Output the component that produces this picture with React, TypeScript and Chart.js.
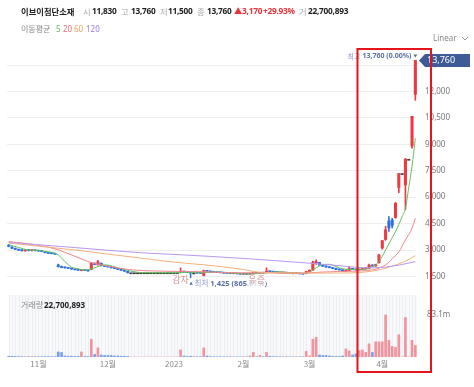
import React, { useEffect, useRef } from 'react';
import { Chart, registerables } from 'chart.js';
Chart.register(...registerables);

const FONT = "'Noto Sans CJK KR', 'Noto Sans', sans-serif";
const NUM_FONT = "'Noto Sans', 'Noto Sans CJK KR', sans-serif";
const STOCK_NAME = '이브이첨단소재';

const opens = [
  3250, 3170, 3100, 3040, 2990, 2960, 2980, 2970, 2990, 2960,
  2940, 2880, 2850, 2810, 2800, 2150, 2060, 2010, 1990, 1960,
  1920, 1880, 1840, 1870, 1840, 1900, 2250, 2160, 2250, 2110,
  2070, 2040, 1990, 1950, 1900, 1850, 1790, 1710, 1710, 1710,
  1710, 1710, 1710, 1710, 1710, 1710, 1710, 1710, 1710, 1710,
  1710, 1710, 1720, 1790, 1750, 1720, 1700, 1700, 1690, 1560,
  1830, 1790, 1760, 1740, 1720, 1710, 1690, 1680, 1660, 1670,
  1650, 1630, 1640, 1620, 1650, 1700, 1680, 1710, 1720, 1800,
  1770, 1750, 1730, 1710, 1720, 1690, 1680, 1670, 1680, 1650,
  1660, 1790, 1860, 2260, 2300, 2150, 2080, 2040, 2000, 1950,
  1900, 1870, 1800, 1850, 1960, 1900, 1870, 1890, 1930, 1950,
  2150, 2090, 2280, 3120, 3600, 4650, 4700, 4850, 6550, 7340,
  6700, 8150, 8900, 11830,
];
const highs = [
  3320, 3200, 3120, 3060, 3020, 3000, 3010, 3000, 3010, 2990,
  2960, 2900, 2870, 2840, 2820, 2200, 2090, 2030, 2000, 1980,
  1930, 1890, 1900, 1880, 1850, 2300, 2280, 2420, 2270, 2130,
  2090, 2050, 2000, 1960, 1910, 1860, 1800, 1710, 1710, 1710,
  1710, 1710, 1710, 1710, 1710, 1710, 1710, 1710, 1710, 1710,
  1710, 1710, 1990, 1800, 1760, 1730, 1720, 1710, 1700, 1860,
  1840, 1800, 1770, 1750, 1730, 1720, 1700, 1690, 1680, 1680,
  1660, 1650, 1650, 1660, 1720, 1710, 1720, 1720, 1990, 1810,
  1780, 1760, 1740, 1730, 1730, 1700, 1690, 1690, 1690, 1660,
  1800, 1880, 2380, 2440, 2310, 2170, 2100, 2050, 2010, 1970,
  1920, 1880, 1880, 2060, 1970, 1920, 1920, 1960, 1990, 2200,
  2170, 2200, 2750, 3535, 4350, 4900, 4800, 5700, 7340, 7340,
  8200, 8150, 10590, 13760,
];
const lows = [
  3180, 3080, 3020, 2980, 2940, 2930, 2950, 2940, 2950, 2930,
  2900, 2830, 2800, 2780, 2750, 2030, 1990, 1970, 1950, 1910,
  1870, 1840, 1820, 1830, 1800, 1880, 2160, 2140, 2090, 2060,
  2030, 1980, 1940, 1890, 1840, 1790, 1700, 1710, 1710, 1710,
  1710, 1710, 1710, 1710, 1710, 1710, 1710, 1710, 1710, 1710,
  1710, 1710, 1700, 1740, 1710, 1425, 1680, 1680, 1670, 1540,
  1780, 1750, 1730, 1710, 1700, 1680, 1670, 1650, 1640, 1640,
  1620, 1610, 1610, 1610, 1640, 1670, 1670, 1680, 1700, 1760,
  1740, 1720, 1700, 1690, 1680, 1670, 1650, 1650, 1640, 1620,
  1650, 1780, 1840, 2180, 2120, 2060, 2020, 1990, 1940, 1890,
  1860, 1820, 1790, 1840, 1890, 1860, 1860, 1880, 1920, 1930,
  2070, 2080, 2250, 3050, 3550, 4050, 4250, 4800, 6250, 7340,
  5300, 8150, 8780, 11500,
];
const closes = [
  3210, 3100, 3040, 2990, 2960, 2980, 2970, 2990, 2960, 2940,
  2910, 2850, 2810, 2800, 2760, 2060, 2010, 1990, 1960, 1920,
  1880, 1850, 1870, 1840, 1810, 2250, 2180, 2330, 2110, 2070,
  2040, 1990, 1950, 1900, 1850, 1800, 1710, 1710, 1710, 1710,
  1710, 1710, 1710, 1710, 1710, 1710, 1710, 1710, 1710, 1710,
  1710, 1710, 1790, 1750, 1720, 1700, 1700, 1690, 1680, 1830,
  1790, 1760, 1740, 1720, 1710, 1690, 1680, 1660, 1670, 1650,
  1630, 1640, 1620, 1650, 1700, 1680, 1710, 1690, 1800, 1770,
  1750, 1730, 1710, 1720, 1690, 1680, 1670, 1680, 1650, 1640,
  1780, 1850, 2300, 2340, 2150, 2080, 2040, 2000, 1950, 1900,
  1870, 1830, 1850, 1960, 1900, 1870, 1900, 1940, 1960, 2150,
  2090, 2180, 2720, 3535, 4150, 4250, 4400, 5650, 7340, 7340,
  8150, 8150, 10590, 13760,
];
const volumes = [
  1500000, 1200000, 1000000, 900000, 800000, 800000, 700000, 800000, 600000, 600000,
  700000, 900000, 800000, 600000, 700000, 10000000, 9000000, 2000000, 1500000, 1500000,
  1200000, 1200000, 10000000, 1000000, 1000000, 35000000, 5000000, 18000000, 4000000, 3000000,
  3000000, 3000000, 2000000, 2000000, 1500000, 1500000, 1200000, 0, 0, 0,
  0, 0, 0, 0, 0, 0, 0, 0, 0, 0,
  0, 0, 14000000, 2000000, 1000000, 1500000, 800000, 600000, 600000, 18000000,
  2000000, 800000, 600000, 500000, 500000, 500000, 400000, 400000, 400000, 400000,
  400000, 400000, 400000, 2000000, 9000000, 600000, 3000000, 600000, 9000000, 1500000,
  800000, 600000, 500000, 500000, 500000, 400000, 400000, 400000, 400000, 500000,
  11000000, 2000000, 35000000, 39000000, 4000000, 3000000, 3000000, 2000000, 1200000, 1200000,
  1000000, 2000000, 16000000, 12000000, 4000000, 6000000, 12500000, 14000000, 9000000, 26000000,
  9000000, 30000000, 30000000, 30000000, 83100000, 33000000, 21000000, 19000000, 44000000, 0,
  78000000, 0, 33000000, 22700893,
];

// moving averages read at points: [session index, value]
const ma5Points: [number, number][] = [
  [0, 3300], [3, 3150], [6, 3000], [9, 2975], [12, 2900], [14, 2830], [15, 2720], [16, 2550],
  [17, 2350], [18, 2180], [19, 2030], [21, 1940], [23, 1870], [25, 1930], [27, 2060], [29, 2160],
  [31, 2110], [33, 1990], [35, 1900], [37, 1800], [39, 1740], [41, 1715], [51, 1710], [53, 1730],
  [55, 1740], [57, 1700], [59, 1720], [61, 1740], [63, 1760], [66, 1710], [70, 1660], [73, 1640],
  [76, 1680], [79, 1730], [82, 1760], [85, 1710], [89, 1670], [91, 1740], [93, 1990], [95, 2170],
  [97, 2190], [99, 2060], [101, 1940], [103, 1900], [105, 1900], [107, 1900], [109, 1970],
  [110, 2077], [111, 2150], [112, 2350], [113, 2640], [114, 3000], [115, 3350], [116, 3700],
  [117, 4050], [118, 4450], [119, 4900], [120, 5364], [121, 6540], [122, 7770], [123, 9340],
];
const ma20Points: [number, number][] = [
  [0, 3480], [5, 3380], [10, 3236], [14, 3068], [17, 2870], [20, 2648], [23, 2420], [25, 2284],
  [28, 2160], [31, 2060], [34, 1950], [37, 1880], [41, 1830], [45, 1808], [50, 1790], [55, 1780],
  [60, 1760], [65, 1724], [70, 1712], [75, 1707], [80, 1700], [85, 1668], [90, 1690], [95, 1752],
  [100, 1780], [104, 1795], [108, 1830], [111, 1910], [113, 2060], [115, 2300], [116, 2508],
  [118, 2900], [120, 3572], [122, 4244], [123, 4804],
];
const ma60Points: [number, number][] = [
  [0, 3400], [10, 3200], [20, 3006], [30, 2770], [40, 2542], [50, 2312], [60, 2144], [70, 1920],
  [76, 1741], [83, 1710], [90, 1696], [100, 1696], [106, 1724], [110, 1808], [113, 1920],
  [116, 2088], [120, 2368], [123, 2676],
];
const ma120Points: [number, number][] = [
  [0, 3432], [20, 3141], [40, 2845], [52, 2732], [70, 2536], [90, 2267], [100, 2116],
  [106, 2004], [110, 1990], [114, 2032], [118, 2144], [123, 2340],
];

const monthTickIndex = [9, 30, 50, 71, 91, 113];
const monthTickLabels = ['11월', '12월', '2023', '2월', '3월', '4월'];
const priceTicks = [1500, 3000, 4500, 6000, 7500, 9000, 10500, 12000, 13500];
const events: [number, string][] = [[52, '감자'], [75, '유증']];
const highlightFrom = 106;

const N = closes.length;
const sessionKeys = closes.map((_, i) => `s${i}`);
const fmt = (n: number) => n.toLocaleString('en-US');

const UP = '#ec3a42';
const DOWN = '#2f6fe4';
const FLAT = '#3c3c3c';

function toSeries(points: [number, number][]) {
  const arr: (number | null)[] = new Array(N).fill(null);
  points.forEach(([i, v]) => { arr[i] = v; });
  return arr;
}

const candleColor = (i: number) =>
  closes[i] > opens[i] ? UP : closes[i] < opens[i] ? DOWN : FLAT;

const volColor = (i: number) => {
  const prev = i > 0 ? closes[i - 1] : opens[i];
  return closes[i] >= prev ? 'rgba(238,120,132,0.78)' : 'rgba(84,138,230,0.78)';
};

const last = N - 1;
const hiIdx = highs.indexOf(Math.max(...highs));
const loIdx = lows.indexOf(Math.min(...lows));
const volMax = Math.max(...volumes);

const overlayPlugin = {
  id: 'overlay',
  beforeDatasetsDraw(chart: any) {
    const { ctx, chartArea } = chart;
    const x = chart.scales.x;
    const top = chartArea.bottom - 62;
    ctx.save();
    ctx.fillStyle = '#f8f9fb';
    ctx.fillRect(chartArea.left + 3, top, chartArea.right - chartArea.left - 3, chartArea.bottom - top);
    ctx.strokeStyle = '#eceef3';
    ctx.lineWidth = 1;
    for (let i = 0; i < N; i++) {
      const px = Math.round(x.getPixelForValue(i)) + 0.5;
      ctx.beginPath();
      ctx.moveTo(px, top);
      ctx.lineTo(px, chartArea.bottom);
      ctx.stroke();
    }
    ctx.restore();
  },
  afterDatasetsDraw(chart: any) {
    const { ctx } = chart;
    const x = chart.scales.x;
    const y = chart.scales.y;
    const yv = chart.scales.yv;
    ctx.save();
    // highest label
    const xh = x.getPixelForValue(hiIdx);
    const yh = y.getPixelForValue(highs[hiIdx]);
    const pctHi = ((closes[last] - highs[hiIdx]) / highs[hiIdx]) * 100;
    ctx.fillStyle = '#5a6ea8';
    ctx.beginPath();
    ctx.moveTo(xh - 2, yh - 6);
    ctx.lineTo(xh + 2, yh - 6);
    ctx.lineTo(xh, yh - 3);
    ctx.closePath();
    ctx.fill();
    ctx.font = `bold 7px ${NUM_FONT}`;
    ctx.textAlign = 'right';
    ctx.textBaseline = 'middle';
    const hiText = `${fmt(highs[hiIdx])} (${pctHi.toFixed(2)}%)`;
    ctx.fillText(hiText, xh - 4, yh - 4.5);
    const w = ctx.measureText(hiText).width;
    ctx.fillStyle = '#8d9cc4';
    ctx.font = `7px ${FONT}`;
    ctx.fillText('최고', xh - 6 - w, yh - 4.5);

    // lowest label
    const xl = x.getPixelForValue(loIdx);
    const yl = y.getPixelForValue(lows[loIdx]);
    const pctLo = ((closes[last] - lows[loIdx]) / lows[loIdx]) * 100;
    ctx.fillStyle = '#5a6ea8';
    ctx.beginPath();
    ctx.moveTo(xl - 1.5, yl + 7);
    ctx.lineTo(xl + 2.5, yl + 7);
    ctx.lineTo(xl + 0.5, yl + 4);
    ctx.closePath();
    ctx.fill();
    ctx.textAlign = 'left';
    ctx.fillStyle = '#8d9cc4';
    ctx.font = `7.5px ${FONT}`;
    ctx.fillText('최저', xl + 4, yl + 5.7);
    const w2 = ctx.measureText('최저').width;
    ctx.fillStyle = '#5a6ea8';
    ctx.font = `bold 7.5px ${NUM_FONT}`;
    ctx.fillText(`${fmt(lows[loIdx])} (${pctLo.toFixed(2)}%)`, xl + 6 + w2, yl + 5.7);

    // event labels
    events.forEach(([i, label]) => {
      const px = x.getPixelForValue(i);
      const py = y.getPixelForValue(priceTicks[0]) + 3.5;
      ctx.font = `9px ${FONT}`;
      const tw = ctx.measureText(label).width;
      ctx.fillStyle = 'rgba(255,255,255,0.75)';
      ctx.fillRect(px - tw / 2 - 1, py - 5, tw + 2, 11);
      ctx.fillStyle = 'rgba(206,140,140,0.95)';
      ctx.textAlign = 'center';
      ctx.fillText(label, px, py);
    });

    // volume mark
    ctx.font = `8px ${NUM_FONT}`;
    ctx.fillStyle = '#777';
    ctx.textAlign = 'left';
    ctx.fillText(`${(volMax / 1e6).toFixed(1)}m`, chart.chartArea.right + 10, yv.getPixelForValue(volMax));

    // current price box
    const yc = y.getPixelForValue(closes[last]);
    const bx = chart.chartArea.right + 2;
    ctx.fillStyle = '#3e5b97';
    ctx.beginPath();
    ctx.moveTo(bx, yc);
    ctx.lineTo(bx + 6, yc - 6.5);
    ctx.lineTo(bx + 51, yc - 6.5);
    ctx.lineTo(bx + 51, yc + 6.5);
    ctx.lineTo(bx + 6, yc + 6.5);
    ctx.closePath();
    ctx.fill();
    ctx.fillStyle = '#ffffff';
    ctx.font = `9px ${NUM_FONT}`;
    ctx.fillText(fmt(closes[last]), bx + 8, yc + 0.5);
    ctx.restore();
  },
  afterDraw(chart: any) {
    const { ctx, chartArea } = chart;
    const x = chart.scales.x;
    const left = (x.getPixelForValue(highlightFrom - 1) + x.getPixelForValue(highlightFrom)) / 2;
    ctx.save();
    ctx.strokeStyle = '#e5141b';
    ctx.lineWidth = 2;
    ctx.strokeRect(left, chartArea.top - 1, chartArea.right + 14 - left, chartArea.bottom - chartArea.top + 16);
    ctx.restore();
  },
};

export default function App() {
  const ref = useRef<HTMLCanvasElement>(null);
  useEffect(() => {
    const wickData = closes.map((_, i) => (highs[i] === lows[i] ? null : [lows[i], highs[i]]));
    const bodyData = closes.map((c, i) => [opens[i], c]);
    const maLine = (label: string, pts: [number, number][], color: string) => ({
      type: 'line' as const,
      label,
      data: toSeries(pts),
      borderColor: color,
      borderWidth: 1,
      pointRadius: 0,
      spanGaps: true,
      cubicInterpolationMode: 'monotone' as const,
      yAxisID: 'y',
      order: 1,
    });
    const chart = new Chart(ref.current!, {
      type: 'bar',
      data: {
        labels: sessionKeys,
        datasets: [
          maLine('MA120', ma120Points, '#b996f0'),
          maLine('MA60', ma60Points, '#f5b07c'),
          maLine('MA20', ma20Points, '#f2858b'),
          maLine('MA5', ma5Points, '#62c162'),
          {
            type: 'bar',
            label: 'wick',
            data: wickData as any,
            backgroundColor: closes.map((_, i) => candleColor(i)),
            barThickness: 1,
            grouped: false,
            yAxisID: 'y',
            order: 3,
          },
          {
            type: 'bar',
            label: 'body',
            data: bodyData as any,
            backgroundColor: closes.map((_, i) => candleColor(i)),
            barThickness: 2.4,
            minBarLength: 1,
            grouped: false,
            yAxisID: 'y',
            order: 2,
          },
          {
            type: 'bar',
            label: 'volume',
            data: volumes,
            backgroundColor: volumes.map((_, i) => volColor(i)),
            barThickness: 2,
            grouped: false,
            yAxisID: 'yv',
            order: 4,
          },
        ] as any,
      },
      options: {
        responsive: false,
        maintainAspectRatio: false,
        devicePixelRatio: 1,
        animation: false,
        events: [],
        layout: { padding: { left: 7, top: 50, right: 0, bottom: 0 } },
        plugins: { legend: { display: false }, tooltip: { enabled: false } },
        scales: {
          x: {
            type: 'category',
            offset: true,
            grid: { display: false, drawTicks: false },
            border: { display: false },
            ticks: {
              autoSkip: false,
              maxRotation: 0,
              padding: 2,
              color: '#8a8a8a',
              font: { size: 8, family: FONT },
              callback: (_v: any, i: number) => {
                const k = monthTickIndex.indexOf(i);
                return k >= 0 ? monthTickLabels[k] : '';
              },
            },
            afterFit: (s: any) => { s.height = 30; },
          },
          y: {
            type: 'linear',
            position: 'right',
            min: -3070,
            max: 14352,
            grid: { color: '#eeeeee', drawTicks: false },
            border: { display: false },
            ticks: {
              padding: 8,
              color: '#777',
              font: { size: 8, family: NUM_FONT },
              callback: (v: any) => fmt(Number(v)),
            },
            afterBuildTicks: (s: any) => {
              s.ticks = priceTicks.map((value) => ({ value }));
            },
            afterFit: (s: any) => { s.width = 57; },
          },
          yv: {
            type: 'linear',
            display: false,
            min: 0,
            max: 607000000,
          },
        },
      } as any,
      plugins: [overlayPlugin],
    });
    return () => chart.destroy();
  }, []);

  const txt = (t: string, left: number, cy: number, color: string, bold = false, size = 8.5, family = FONT, ls = 0) => (
    <span
      key={`${t}-${left}-${cy}`}
      style={{
        position: 'absolute', left, top: cy - 6, lineHeight: '12px', fontSize: size, fontFamily: family,
        fontWeight: bold ? 700 : 400, color, whiteSpace: 'nowrap', letterSpacing: ls,
      }}
    >
      {t}
    </span>
  );

  const prev = closes[last - 1];
  const chg = closes[last] - prev;
  const pct = (chg / prev) * 100;
  const cy1 = 10.5;
  const ls = -0.25;

  return (
    <div style={{ position: 'fixed', left: 0, top: 0, width: 474, height: 387, background: '#fff', fontFamily: FONT, overflow: 'hidden' }}>
      <canvas ref={ref} width={474} height={387} style={{ position: 'absolute', left: 0, top: 0, display: 'block' }} />
      {txt(STOCK_NAME, 21, cy1, '#222', true, 8.3)}
      {txt('시', 83, cy1, '#aaa', false, 8.3)}
      {txt(fmt(opens[last]), 92, cy1, '#222', true, 8.3, NUM_FONT, ls)}
      {txt('고', 121, cy1, '#aaa', false, 8.3)}
      {txt(fmt(highs[last]), 131, cy1, '#222', true, 8.3, NUM_FONT, ls)}
      {txt('저', 160, cy1, '#aaa', false, 8.3)}
      {txt(fmt(lows[last]), 168, cy1, '#222', true, 8.3, NUM_FONT, ls)}
      {txt('종', 197, cy1, '#aaa', false, 8.3)}
      {txt(fmt(closes[last]), 207, cy1, '#222', true, 8.3, NUM_FONT, ls)}
      {txt(`▲${fmt(chg)}`, 234, cy1, '#e8333a', true, 8.3, NUM_FONT, ls)}
      {txt(`+${pct.toFixed(2)}%`, 263, cy1, '#e8333a', true, 8.3, NUM_FONT, ls)}
      {txt('거', 299, cy1, '#aaa', false, 8.3)}
      {txt(fmt(volumes[last]), 308, cy1, '#222', true, 8.3, NUM_FONT, ls)}
      {txt('이동평균', 21, 29.3, '#888', false, 8)}
      {txt('5', 56, 29.3, '#5dbb5d', false, 8, NUM_FONT)}
      {txt('20', 63, 29.3, '#f07070', false, 8, NUM_FONT)}
      {txt('60', 74, 29.3, '#f0a060', false, 8, NUM_FONT)}
      {txt('120', 86, 29.3, '#9a80e6', false, 8, NUM_FONT)}
      {txt('Linear', 433, 38.3, '#888', false, 8, NUM_FONT)}
      <svg style={{ position: 'absolute', left: 461, top: 36 }} width={8} height={6}>
        <polyline points="1,1 4,4 7,1" fill="none" stroke="#999" strokeWidth={1} />
      </svg>
      {txt('거래량', 21, 305, '#888', false, 8)}
      {txt(fmt(volumes[last]), 44, 305, '#222', true, 8, NUM_FONT)}
    </div>
  );
}
